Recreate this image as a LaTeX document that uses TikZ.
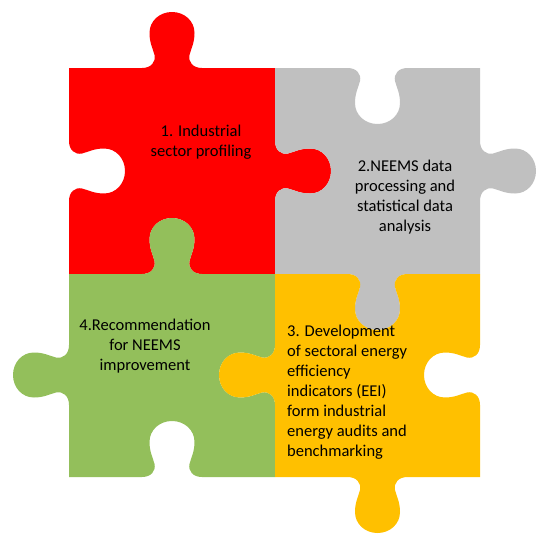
\documentclass[tikz,border=0pt]{standalone}
\usepackage{fontspec}
\setmainfont{Carlito}
\usetikzlibrary{calc}
\definecolor{pzred}{HTML}{FF0000}
\definecolor{pzgray}{HTML}{C0C0C0}
\definecolor{pzgreen}{HTML}{93BF5B}
\definecolor{pzyellow}{HTML}{FFC000}
% edge with a centred tab: #1 centre of edge, #2 direction of travel, #3 direction of the tab
\newcommand\pedge[3]{%
 -- ($#1-30*#2$)
 .. controls ($#1-21*#2$) and ($#1-16*#2+6*#3$) .. ($#1-17.5*#2+13*#3$)
 .. controls ($#1-19*#2+19*#3$) and ($#1-22.5*#2+25*#3$) .. ($#1-22.5*#2+35*#3$)
 .. controls ($#1-22.5*#2+47*#3$) and ($#1-12.5*#2+56*#3$) .. ($#1+56*#3$)
 .. controls ($#1+12.5*#2+56*#3$) and ($#1+22.5*#2+47*#3$) .. ($#1+22.5*#2+35*#3$)
 .. controls ($#1+22.5*#2+25*#3$) and ($#1+19*#2+19*#3$) .. ($#1+17.5*#2+13*#3$)
 .. controls ($#1+16*#2+6*#3$) and ($#1+21*#2$) .. ($#1+30*#2$)}
\tikzset{
 piece/.style={draw=none},
 lbl/.style={font=\fontsize{16.5}{20}\selectfont, text=black, inner sep=0pt, align=center}
}
\begin{document}
\begin{tikzpicture}[x=1pt,y=-1pt]
\useasboundingbox (0,0) rectangle (550,546);
% red piece
\fill[piece, pzred] (69,68) \pedge{(172,68)}{(1,0)}{(0,-1)} -- (275,68)
  \pedge{(275,171)}{(0,1)}{(1,0)} -- (275,274)
  \pedge{(172,274)}{(-1,0)}{(0,-1)} -- (69,274)
  \pedge{(69,171)}{(0,-1)}{(1,0)} -- cycle;
% gray piece
\fill[piece, pzgray] (275,68) \pedge{(377.5,68)}{(1,0)}{(0,1)} -- (480,68)
  \pedge{(480,171)}{(0,1)}{(1,0)} -- (480,274)
  \pedge{(377.5,274)}{(-1,0)}{(0,1)} -- (275,274)
  \pedge{(275,171)}{(0,-1)}{(1,0)} -- cycle;
% green piece
\fill[piece, pzgreen] (69,274) \pedge{(172,274)}{(1,0)}{(0,-1)} -- (275,274)
  \pedge{(275,375)}{(0,1)}{(-1,0)} -- (275,477)
  \pedge{(172,477)}{(-1,0)}{(0,-1)} -- (69,477)
  \pedge{(69,375)}{(0,-1)}{(-1,0)} -- cycle;
% yellow piece
\fill[piece, pzyellow] (275,274) \pedge{(377.5,274)}{(1,0)}{(0,1)} -- (480,274)
  \pedge{(480,375)}{(0,1)}{(-1,0)} -- (480,477)
  \pedge{(377.5,477)}{(-1,0)}{(0,1)} -- (275,477)
  \pedge{(275,375)}{(0,-1)}{(-1,0)} -- cycle;
% labels
\node[lbl] (t1) at (201,142) {1. Industrial\\sector profiling};
\node[lbl] (t2) at (405,197) {2.NEEMS data\\processing and\\statistical data\\analysis};
\node[lbl] (t4) at (145,346) {4.Recommendation\\for NEEMS\\improvement};
\node[lbl, align=left, anchor=west] (t3) at (287,392) {3. Development\\of sectoral energy\\efficiency\\indicators (EEI)\\form industrial\\energy audits and\\benchmarking};
\end{tikzpicture}
\end{document}
